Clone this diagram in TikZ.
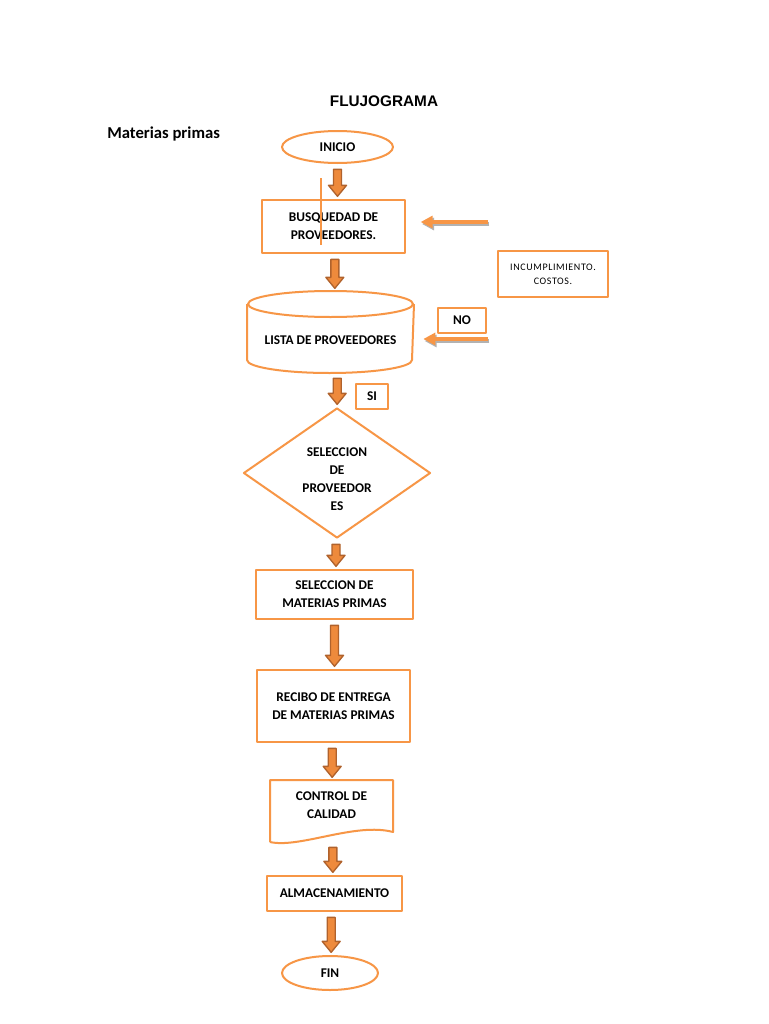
\documentclass[tikz,border=0pt]{standalone}
\usepackage{fontspec}
\setmainfont{Carlito}
\newfontfamily\arialfont{Liberation Sans}
\usetikzlibrary{shapes.geometric,arrows.meta,calc}
\definecolor{naranja}{HTML}{F79646}
\definecolor{naranjaosc}{HTML}{B0622C}
\definecolor{relleno}{HTML}{EE8A3C}
\tikzset{
  tam/.style 2 args={minimum width=#1*0.75pt,minimum height=#2*0.75pt},
  borde/.style={draw=naranja,line width=1.5pt,line join=round},
  caja/.style={borde,rectangle,inner sep=0pt,align=center,
    font=\bfseries\fontsize{10}{13.5}\selectfont},
  elipse/.style={caja,ellipse},
  rombo/.style={caja,diamond},
  bloque/.style={fill=relleno,draw=naranjaosc,line width=1pt,line join=round},
  lateral/.style={draw=naranja,line width=3.2pt,-{Triangle[length=9pt,width=9pt]}},
  sombra/.style={draw=black!30,line width=3.2pt,-{Triangle[length=9pt,width=9pt]}}
}
% flecha de bloque hacia abajo: [desplazamiento x]{origen}{destino}
\newcommand\flecha[3][0pt]{%
  \path[bloque] let \p1=(#2.south), \p2=(#3.north) in
    (\x1+#1-3pt,\y1-4pt) -- (\x1+#1+3pt,\y1-4pt) -- (\x1+#1+3pt,\y2+10.25pt)
    -- (\x1+#1+6.75pt,\y2+10.25pt) -- (\x1+#1,\y2+2pt)
    -- (\x1+#1-6.75pt,\y2+10.25pt) -- (\x1+#1-3pt,\y2+10.25pt) -- cycle;}
\begin{document}
\begin{tikzpicture}[x=0.75pt,y=0.75pt]
  \fill[white] (0,0) rectangle (768,-1024);
  \useasboundingbox (0,0) rectangle (768,-1024);

  \node[font=\arialfont\bfseries\fontsize{11.5}{14}\selectfont] (titulo) at (384,-101) {FLUJOGRAMA};
  \node[font=\bfseries\fontsize{12.5}{15}\selectfont,anchor=west,inner sep=0pt] (materias) at (107,-134) {Materias primas};

  \node[elipse,tam={111}{32}] (inicio) at (337.5,-147) {INICIO};
  \node[caja,tam={143}{53}] (busqueda) at (333.5,-226.5) {BUSQUEDAD DE\\PROVEEDORES.};
  \node[caja,draw=none,tam={165}{80}] (lista) at (330.5,-332) {\mbox{}\\[6pt]LISTA DE PROVEEDORES};
  \node[rombo,tam={187}{130}] (selprov) at (337,-473)
    {\raisebox{-7.4pt}[0pt][0pt]{\begin{tabular}{@{}c@{}}SELECCION\\DE\\PROVEEDOR\\ES\end{tabular}}};
  \node[caja,tam={157}{49}] (selmat) at (334.5,-594.5) {SELECCION DE\\MATERIAS PRIMAS};
  \node[caja,tam={153}{72}] (recibo) at (333.5,-706) {RECIBO DE ENTREGA\\DE MATERIAS PRIMAS};
  \node[caja,draw=none,tam={121}{60}] (control) at (331.5,-811) {CONTROL DE\\CALIDAD\\[-4.5pt]\mbox{}};
  \node[caja,tam={135}{35}] (almacen) at (334.5,-893.5) {ALMACENAMIENTO};
  \node[elipse,tam={96}{34}] (fin) at (330,-973) {FIN};

  \node[caja,tam={110}{46},font=\fontsize{7.5}{10.5}\selectfont\addfontfeatures{LetterSpace=6}] (incumpl) at (553,-274) {INCUMPLIMIENTO.\\COSTOS.};
  \node[caja,tam={48}{25}] (no) at (462,-320.5) {NO};
  \node[caja,tam={32}{25}] (si) at (372,-396.5) {SI};

  % cilindro
  \draw[borde] ($(lista.north)+(0,-9.75pt)$) ellipse [x radius=61.875pt,y radius=9.75pt];
  \draw[borde] ($(lista.north west)+(0,-9.75pt)$) -- ($(lista.south west)+(0,9.75pt)$)
    arc [start angle=180,end angle=360,x radius=61.875pt,y radius=9.75pt]
    -- ($(lista.north east)+(0,-9.75pt)$);
  % documento
  \draw[borde] (control.south west) -- (control.north west) -- (control.north east)
    -- ($(control.south east)+(0,7.5pt)$) .. controls +(-28pt,7.5pt) and +(22pt,-5pt) .. (control.south west);

  \draw[naranja,line width=1.5pt] (321,-178) -- (321,-245);

  \flecha{inicio}{busqueda}
  \flecha[1pt]{busqueda}{lista}
  \flecha[5pt]{lista}{selprov}
  \flecha[-0.75pt]{selprov}{selmat}
  \flecha{selmat}{recibo}
  \flecha[-1pt]{recibo}{control}
  \flecha[1pt]{control}{almacen}
  \flecha[-2.5pt]{almacen}{fin}

  \coordinate (e1) at (488,-222);
  \coordinate (e2) at (488,-339);
  \draw[sombra,shorten >=11pt] ([shift={(1pt,-1.5pt)}]e1) -- ([shift={(1pt,-1.5pt)}]busqueda.east |- e1);
  \draw[lateral,shorten >=11pt] (e1) -- (busqueda.east |- e1);
  \draw[sombra,shorten >=7pt] ([shift={(1pt,-1.5pt)}]e2) -- ([shift={(1pt,-1.5pt)}]lista.east |- e2);
  \draw[lateral,shorten >=7pt] (e2) -- (lista.east |- e2);
\end{tikzpicture}
\end{document}
